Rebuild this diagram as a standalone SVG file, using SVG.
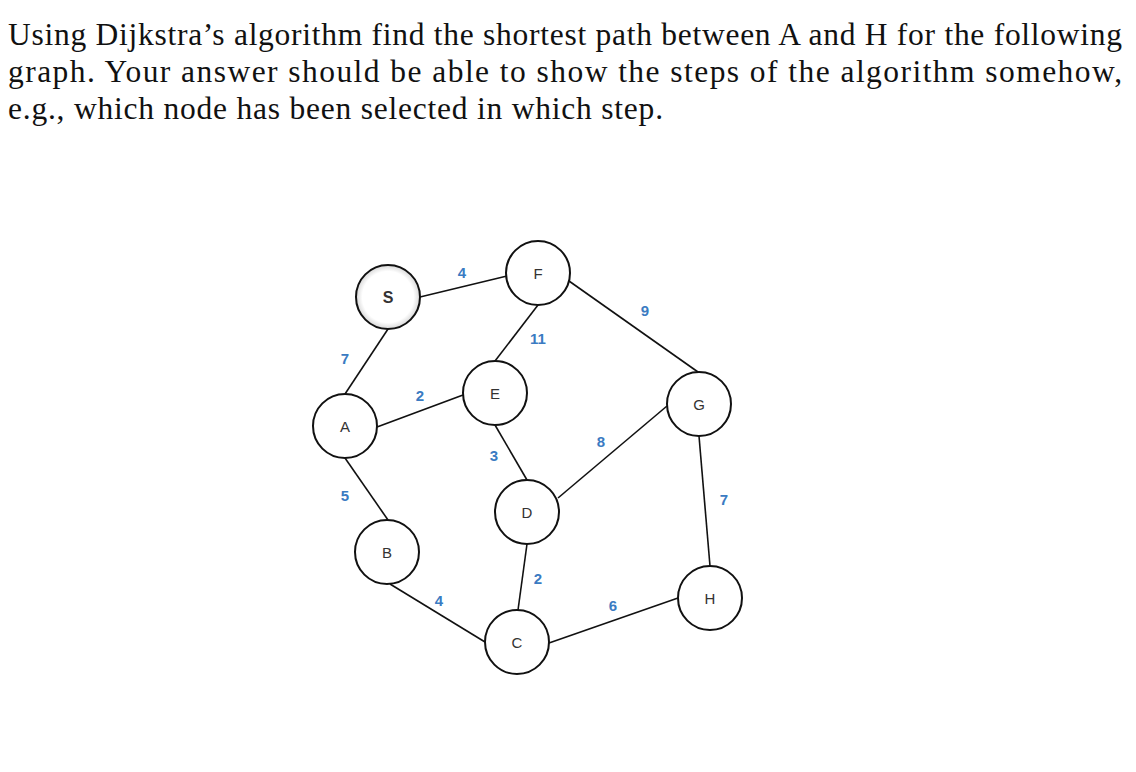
<svg xmlns="http://www.w3.org/2000/svg" width="1136" height="772" viewBox="0 0 1136 772">
<defs>
<radialGradient id="sg" cx="50%" cy="50%" r="50%">
<stop offset="80%" stop-color="#ffffff"/>
<stop offset="100%" stop-color="#d8d8d8"/>
</radialGradient>
</defs>
<style>
.title{font-family:"Liberation Serif","DejaVu Serif",serif;font-size:31.5px;fill:#111}
.node circle{fill:#fff;stroke:#111;stroke-width:2}
.node text{font-family:"Liberation Sans",Arial,sans-serif;font-size:15px;fill:#333;text-anchor:middle;dominant-baseline:central}
.edges line{stroke:#111;stroke-width:1.6}
.w{font-family:"Liberation Sans",Arial,sans-serif;font-size:15px;font-weight:bold;fill:#3a7bc2;text-anchor:middle;dominant-baseline:central}
</style>
<rect width="1136" height="772" fill="#fff"/>
<text class="title" x="8" y="45" textLength="1114" lengthAdjust="spacing">Using Dijkstra’s algorithm find the shortest path between A and H for the following</text>
<text class="title" x="8" y="82" textLength="1114" lengthAdjust="spacing">graph.  Your answer should be able to show the steps of the algorithm somehow,</text>
<text class="title" x="8" y="119" textLength="655" lengthAdjust="spacing">e.g., which node has been selected in which step.</text>
<g class="edges" id="edges">
<line x1="420" y1="297" x2="507" y2="276"/>
<line x1="569" y1="281" x2="698" y2="372"/>
<line x1="388" y1="329" x2="345" y2="394"/>
<line x1="538" y1="305" x2="495" y2="361"/>
<line x1="377" y1="427" x2="463" y2="395"/>
<line x1="495" y1="425" x2="527" y2="480"/>
<line x1="345" y1="458" x2="388" y2="520"/>
<line x1="558" y1="498" x2="667" y2="406"/>
<line x1="527" y1="544" x2="518" y2="610"/>
<line x1="390" y1="584" x2="485" y2="642"/>
<line x1="549" y1="643" x2="678" y2="598"/>
<line x1="699" y1="436" x2="710" y2="566"/>
<text class="w" x="462" y="272">4</text>
<text class="w" x="645" y="310">9</text>
<text class="w" x="345" y="358">7</text>
<text class="w" x="538" y="338">11</text>
<text class="w" x="420" y="395">2</text>
<text class="w" x="494" y="455">3</text>
<text class="w" x="601" y="441">8</text>
<text class="w" x="345" y="495">5</text>
<text class="w" x="724" y="499">7</text>
<text class="w" x="538" y="578">2</text>
<text class="w" x="439" y="600">4</text>
<text class="w" x="613" y="605">6</text>
</g>
<g class="node" id="node-S"><circle cx="388" cy="297" r="32" style="fill:url(#sg)"/><text x="388" y="297" style="font-weight:bold;font-size:16px">S</text></g>
<g class="node" id="node-F"><circle cx="538" cy="273" r="32"/><text x="538" y="273">F</text></g>
<g class="node" id="node-E"><circle cx="495" cy="393" r="32"/><text x="495" y="393">E</text></g>
<g class="node" id="node-A"><circle cx="345" cy="426" r="32"/><text x="345" y="426">A</text></g>
<g class="node" id="node-G"><circle cx="699" cy="404" r="32"/><text x="699" y="404">G</text></g>
<g class="node" id="node-D"><circle cx="527" cy="512" r="32"/><text x="527" y="512">D</text></g>
<g class="node" id="node-B"><circle cx="387" cy="552" r="32"/><text x="387" y="552">B</text></g>
<g class="node" id="node-C"><circle cx="517" cy="642" r="32"/><text x="517" y="642">C</text></g>
<g class="node" id="node-H"><circle cx="710" cy="598" r="32"/><text x="710" y="598">H</text></g>
</svg>
